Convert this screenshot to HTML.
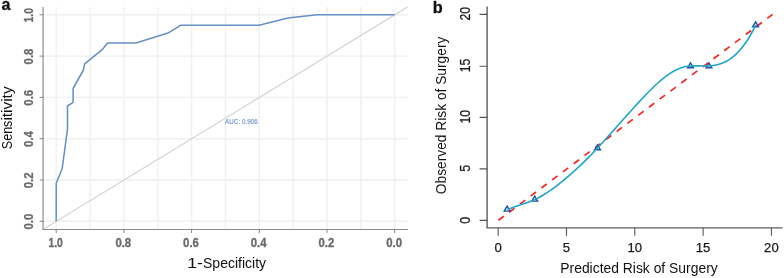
<!DOCTYPE html>
<html><head><meta charset="utf-8">
<style>
html,body{margin:0;padding:0;background:#fff;}
svg{display:block;font-family:"Liberation Sans",sans-serif;}
</style></head>
<body>
<svg width="784" height="278" viewBox="0 0 784 278">
<rect width="784" height="278" fill="#fff"/>
<!-- LEFT PANEL grid -->
<defs><filter id="bl" x="-20%" y="-20%" width="140%" height="140%"><feGaussianBlur stdDeviation="0.45"/></filter></defs>
<g stroke="#f0f0f0" stroke-width="1.4" fill="none">
  <path d="M56.2 7V229.5M90.0 7V229.5M123.9 7V229.5M157.8 7V229.5M191.6 7V229.5M225.4 7V229.5M259.3 7V229.5M293.1 7V229.5M327.0 7V229.5M360.8 7V229.5M394.7 7V229.5"/>
  <path d="M43.3 221.3H408M43.3 180.0H408M43.3 138.7H408M43.3 97.4H408M43.3 56.1H408M43.3 14.8H408"/>
</g>
<!-- diagonal -->
<path d="M43.3 229.2L407.7 6.9" stroke="#d6d6d6" stroke-width="1.25" fill="none"/>
<!-- axes -->
<path d="M43.1 6.9V230" stroke="#b4b4b4" stroke-width="1.8" fill="none"/>
<path d="M42.5 229.5H408" stroke="#8c8c8c" stroke-width="1.1" fill="none"/>
<g stroke="#777" stroke-width="0.9">
  <path d="M39.6 221.3H43.3M39.6 180.0H43.3M39.6 138.7H43.3M39.6 97.4H43.3M39.6 56.1H43.3M39.6 14.8H43.3"/>
  <path d="M394.7 229.5V233M327.0 229.5V233M259.3 229.5V233M191.6 229.5V233M123.9 229.5V233M56.2 229.5V233"/>
</g>
<!-- ROC -->
<polyline fill="none" stroke="#6690c6" stroke-width="1.55" stroke-linejoin="round" points="56.2,221.3 56.3,183.0 62.2,168.5 67.5,129 67.5,106 73.1,102.3 73.1,88.5 83.4,70 84.6,63.9 101.9,49.9 107.6,43 136,43 168.8,32.7 180.9,25.2 259,25.2 287.9,18.1 316.9,14.8 394.5,14.8"/>
<!-- tick labels left -->
<g font-size="12" font-weight="bold" fill="#6a6a6a" stroke="#6a6a6a" stroke-width="0.3" text-anchor="middle" filter="url(#bl)">
  <text x="55.6" y="247.4" textLength="14.4" lengthAdjust="spacingAndGlyphs">1.0</text>
  <text x="123.3" y="247.4" textLength="15.8" lengthAdjust="spacingAndGlyphs">0.8</text>
  <text x="191.0" y="247.4" textLength="15.8" lengthAdjust="spacingAndGlyphs">0.6</text>
  <text x="258.7" y="247.4" textLength="15.8" lengthAdjust="spacingAndGlyphs">0.4</text>
  <text x="326.4" y="247.4" textLength="15.8" lengthAdjust="spacingAndGlyphs">0.2</text>
  <text x="394.1" y="247.4" textLength="15.8" lengthAdjust="spacingAndGlyphs">0.0</text>
  <text transform="translate(33.2,221.7) rotate(-90)" textLength="15.8" lengthAdjust="spacingAndGlyphs">0.0</text>
  <text transform="translate(33.2,180.4) rotate(-90)" textLength="15.8" lengthAdjust="spacingAndGlyphs">0.2</text>
  <text transform="translate(33.2,139.1) rotate(-90)" textLength="15.8" lengthAdjust="spacingAndGlyphs">0.4</text>
  <text transform="translate(33.2,97.8) rotate(-90)" textLength="15.8" lengthAdjust="spacingAndGlyphs">0.6</text>
  <text transform="translate(33.2,56.5) rotate(-90)" textLength="15.8" lengthAdjust="spacingAndGlyphs">0.8</text>
  <text transform="translate(33.2,15.2) rotate(-90)" textLength="14.4" lengthAdjust="spacingAndGlyphs">1.0</text>
  
</g>
<text x="225.1" y="124.3" font-size="7.9" fill="#6a92c6" stroke="#6a92c6" stroke-width="0.15" textLength="32.6" lengthAdjust="spacingAndGlyphs" filter="url(#bl)">AUC: 0.906</text>
<text transform="translate(11.6,149.2) rotate(-90)" font-size="14" fill="#111"><tspan textLength="28.6" lengthAdjust="spacingAndGlyphs">Sens</tspan><tspan textLength="34.2" lengthAdjust="spacingAndGlyphs">itivity</tspan></text>
<text x="187.2" y="268.3" font-size="14.8" fill="#111"><tspan textLength="15.8" lengthAdjust="spacingAndGlyphs">1-</tspan><tspan textLength="63.1" lengthAdjust="spacingAndGlyphs">Specificity</tspan></text>
<text x="1.6" y="9.6" font-size="16" font-weight="bold" fill="#111" stroke="#111" stroke-width="0.3">a</text>
<!-- RIGHT PANEL -->
<text x="432.8" y="12.6" font-size="16.3" font-weight="bold" fill="#111" stroke="#111" stroke-width="0.3">b</text>
<path d="M487.1 6.5V227.9H782.5" stroke="#5c5c5c" stroke-width="1.4" fill="none"/>
<g stroke="#555" stroke-width="1.1">
  <path d="M479.6 14.4H487.3M479.6 66.2H487.3M479.6 117.4H487.3M479.6 168.9H487.3M479.6 220.4H487.3"/>
  <path d="M498.2 227.9V235.8M566.5 227.9V235.8M634.8 227.9V235.8M703.1 227.9V235.8M771.4 227.9V235.8"/>
</g>
<g font-size="13.1" fill="#1a1a1a" stroke="#1a1a1a" stroke-width="0.25" text-anchor="middle">
  <text x="498.2" y="251.8">0</text>
  <text x="566.5" y="251.8">5</text>
  <text x="634.8" y="251.8">10</text>
  <text x="703.1" y="251.8">15</text>
  <text x="771.4" y="251.8">20</text>
  
</g>
<g font-size="13.8" fill="#1a1a1a" stroke="#1a1a1a" stroke-width="0.25" text-anchor="middle">
  <text transform="translate(470.1,220.3) rotate(-90)" textLength="6.9" lengthAdjust="spacingAndGlyphs">0</text>
  <text transform="translate(470.1,168.2) rotate(-90)" textLength="6.9" lengthAdjust="spacingAndGlyphs">5</text>
  <text transform="translate(470.1,116.7) rotate(-90)" textLength="13.7" lengthAdjust="spacingAndGlyphs">10</text>
  <text transform="translate(470.1,65.5) rotate(-90)" textLength="13.7" lengthAdjust="spacingAndGlyphs">15</text>
  <text transform="translate(470.1,13.7) rotate(-90)" textLength="13.7" lengthAdjust="spacingAndGlyphs">20</text>
  </g>
<text transform="translate(446,115.4) rotate(-90)" font-size="15" text-anchor="middle" textLength="157.5" lengthAdjust="spacingAndGlyphs" fill="#111">Observed Risk of Surgery</text>
<text x="639" y="273.3" font-size="14" text-anchor="middle" textLength="157.4" lengthAdjust="spacingAndGlyphs" fill="#111">Predicted Risk of Surgery</text>
<!-- dashed ideal -->
<path d="M498.4 220.3L773 14.1" stroke="#f22626" stroke-width="1.7" stroke-dasharray="6.7 6.75" fill="none"/>
<g stroke="#234fa3" stroke-width="1.4" fill="none" stroke-linejoin="miter"><path d="M507.1 206.2L510.0 211.1H504.2Z"/><path d="M534.7 196.2L537.6 201.1H531.8Z"/><path d="M597.5 144.9L600.4 149.8H594.6Z"/><path d="M690.5 62.8L693.4 67.7H687.6Z"/><path d="M708.9 62.8L711.8 67.7H706.0Z"/><path d="M755.6 21.9L758.5 26.8H752.7Z"/></g>
<path d="M507.3 209.5C508.3 209.1 511.3 207.9 513.3 207.2C515.3 206.5 517.3 205.9 519.3 205.2C521.3 204.6 523.3 204.0 525.3 203.3C527.3 202.6 529.3 201.9 531.3 201.1C533.3 200.3 535.3 199.4 537.3 198.4C539.3 197.4 541.3 196.2 543.3 195.0C545.3 193.8 547.3 192.5 549.3 191.1C551.3 189.8 553.3 188.3 555.3 186.8C557.3 185.3 559.3 183.7 561.3 182.1C563.3 180.5 565.3 178.9 567.3 177.2C569.3 175.5 571.3 173.7 573.3 171.9C575.3 170.1 577.3 168.3 579.3 166.4C581.3 164.5 583.3 162.6 585.3 160.6C587.3 158.7 589.3 156.6 591.3 154.6C593.3 152.5 595.3 150.4 597.3 148.3C599.3 146.2 601.3 144.0 603.3 141.8C605.3 139.6 607.3 137.4 609.3 135.1C611.3 132.9 613.3 130.6 615.3 128.4C617.3 126.1 619.3 123.9 621.3 121.6C623.3 119.4 625.3 117.1 627.3 114.9C629.3 112.6 631.3 110.4 633.3 108.2C635.3 106.0 637.3 103.8 639.3 101.6C641.3 99.5 643.3 97.4 645.3 95.3C647.3 93.2 649.3 91.2 651.3 89.2C653.3 87.2 655.3 85.3 657.3 83.5C659.3 81.6 661.3 79.9 663.3 78.3C665.3 76.7 667.3 75.2 669.3 73.8C671.3 72.5 673.3 71.3 675.3 70.2C677.3 69.2 679.3 68.4 681.3 67.7C683.3 67.1 685.3 66.6 687.3 66.3C689.3 66.0 691.3 65.9 693.3 65.9C695.3 65.8 697.3 65.9 699.3 65.9C701.3 65.9 703.3 66.0 705.3 66.0C707.3 66.0 709.3 66.0 711.3 65.8C713.3 65.6 715.3 65.3 717.3 64.8C719.3 64.3 721.3 63.7 723.3 62.8C725.3 61.9 727.3 60.9 729.3 59.6C731.3 58.2 733.3 56.7 735.3 54.9C737.3 53.0 739.3 50.9 741.3 48.5C743.3 46.1 745.3 43.4 747.3 40.3C749.3 37.2 751.9 32.5 753.3 30.0C754.7 27.4 755.4 25.8 755.8 25.0" stroke="#1fa6c6" stroke-width="1.6" fill="none"/>
</svg>
</body></html>
